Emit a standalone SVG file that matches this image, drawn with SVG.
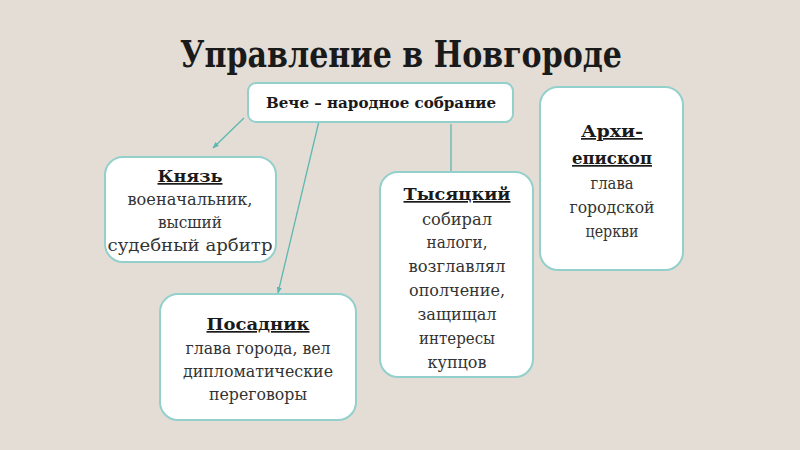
<svg xmlns="http://www.w3.org/2000/svg" width="800" height="450" viewBox="0 0 800 450">
<defs>
<style>
.bg{fill:#E3DDD5}
.box{fill:#FFFFFF;stroke:#93CFCB;stroke-width:2}
.t{font-family:"DejaVu Serif",serif;fill:#1a1a1a;text-anchor:middle}
.h{font-weight:bold;font-size:17px;text-decoration:underline}
.b{font-size:16px;fill:#333}
.c{stroke:#5DB8B3;stroke-width:1.3;fill:none}
</style>
<marker id="arr" viewBox="0 0 10 10" refX="9" refY="5" markerWidth="5" markerHeight="5" orient="auto">
<path d="M0,1 L10,5 L0,9 z" fill="#5DB8B3"/>
</marker>
</defs>
<rect class="bg" x="0" y="0" width="800" height="450"/>
<text class="t" x="401" y="67" font-size="37" font-weight="bold" fill="#111" textLength="442" lengthAdjust="spacingAndGlyphs">Управление в Новгороде</text>
<g id="connectors">
<line class="c" x1="244" y1="118" x2="213" y2="148" marker-end="url(#arr)"/>
<line class="c" x1="319" y1="121" x2="278" y2="293" marker-end="url(#arr)"/>
<line class="c" x1="451" y1="124" x2="451" y2="172"/>
</g>
<g id="veche">
<rect class="box" x="248" y="83" width="265" height="39" rx="8"/>
<text class="t" x="381" y="108" font-size="15" font-weight="bold" textLength="230" lengthAdjust="spacingAndGlyphs">Вече – народное собрание</text>
</g>
<g id="knyaz">
<rect class="box" x="105" y="157" width="171" height="105" rx="18"/>
<text class="t h" x="190" y="182" textLength="65" lengthAdjust="spacingAndGlyphs">Князь</text>
<text class="t b" x="190" y="205" textLength="125" lengthAdjust="spacingAndGlyphs">военачальник,</text>
<text class="t b" x="190" y="228" textLength="64" lengthAdjust="spacingAndGlyphs">высший</text>
<text class="t b" x="190" y="251" textLength="165" lengthAdjust="spacingAndGlyphs">судебный арбитр</text>
</g>
<g id="posadnik">
<rect class="box" x="160" y="294" width="196" height="126" rx="18"/>
<text class="t h" x="258" y="330" textLength="103" lengthAdjust="spacingAndGlyphs">Посадник</text>
<text class="t b" x="258" y="354" textLength="145" lengthAdjust="spacingAndGlyphs">глава города, вел</text>
<text class="t b" x="258" y="377" textLength="150" lengthAdjust="spacingAndGlyphs">дипломатические</text>
<text class="t b" x="258" y="400" textLength="98" lengthAdjust="spacingAndGlyphs">переговоры</text>
</g>
<g id="tysyatsky">
<rect class="box" x="380" y="172" width="153" height="205" rx="18"/>
<text class="t h" x="457" y="200" textLength="107" lengthAdjust="spacingAndGlyphs">Тысяцкий</text>
<text class="t b" x="457" y="225" textLength="70" lengthAdjust="spacingAndGlyphs">собирал</text>
<text class="t b" x="457" y="248" textLength="61" lengthAdjust="spacingAndGlyphs">налоги,</text>
<text class="t b" x="457" y="272" textLength="97" lengthAdjust="spacingAndGlyphs">возглавлял</text>
<text class="t b" x="457" y="296" textLength="96" lengthAdjust="spacingAndGlyphs">ополчение,</text>
<text class="t b" x="457" y="320" textLength="79" lengthAdjust="spacingAndGlyphs">защищал</text>
<text class="t b" x="457" y="344" textLength="76" lengthAdjust="spacingAndGlyphs">интересы</text>
<text class="t b" x="457" y="368" textLength="59" lengthAdjust="spacingAndGlyphs">купцов</text>
</g>
<g id="arkhiepiskop">
<rect class="box" x="540" y="87" width="143" height="183" rx="18"/>
<text class="t h" x="612" y="137" textLength="62" lengthAdjust="spacingAndGlyphs">Архи-</text>
<text class="t h" x="612" y="164" textLength="80" lengthAdjust="spacingAndGlyphs">епископ</text>
<text class="t b" x="612" y="189" textLength="43" lengthAdjust="spacingAndGlyphs">глава</text>
<text class="t b" x="612" y="213" textLength="85" lengthAdjust="spacingAndGlyphs">городской</text>
<text class="t b" x="612" y="237" textLength="53" lengthAdjust="spacingAndGlyphs">церкви</text>
</g>
</svg>
